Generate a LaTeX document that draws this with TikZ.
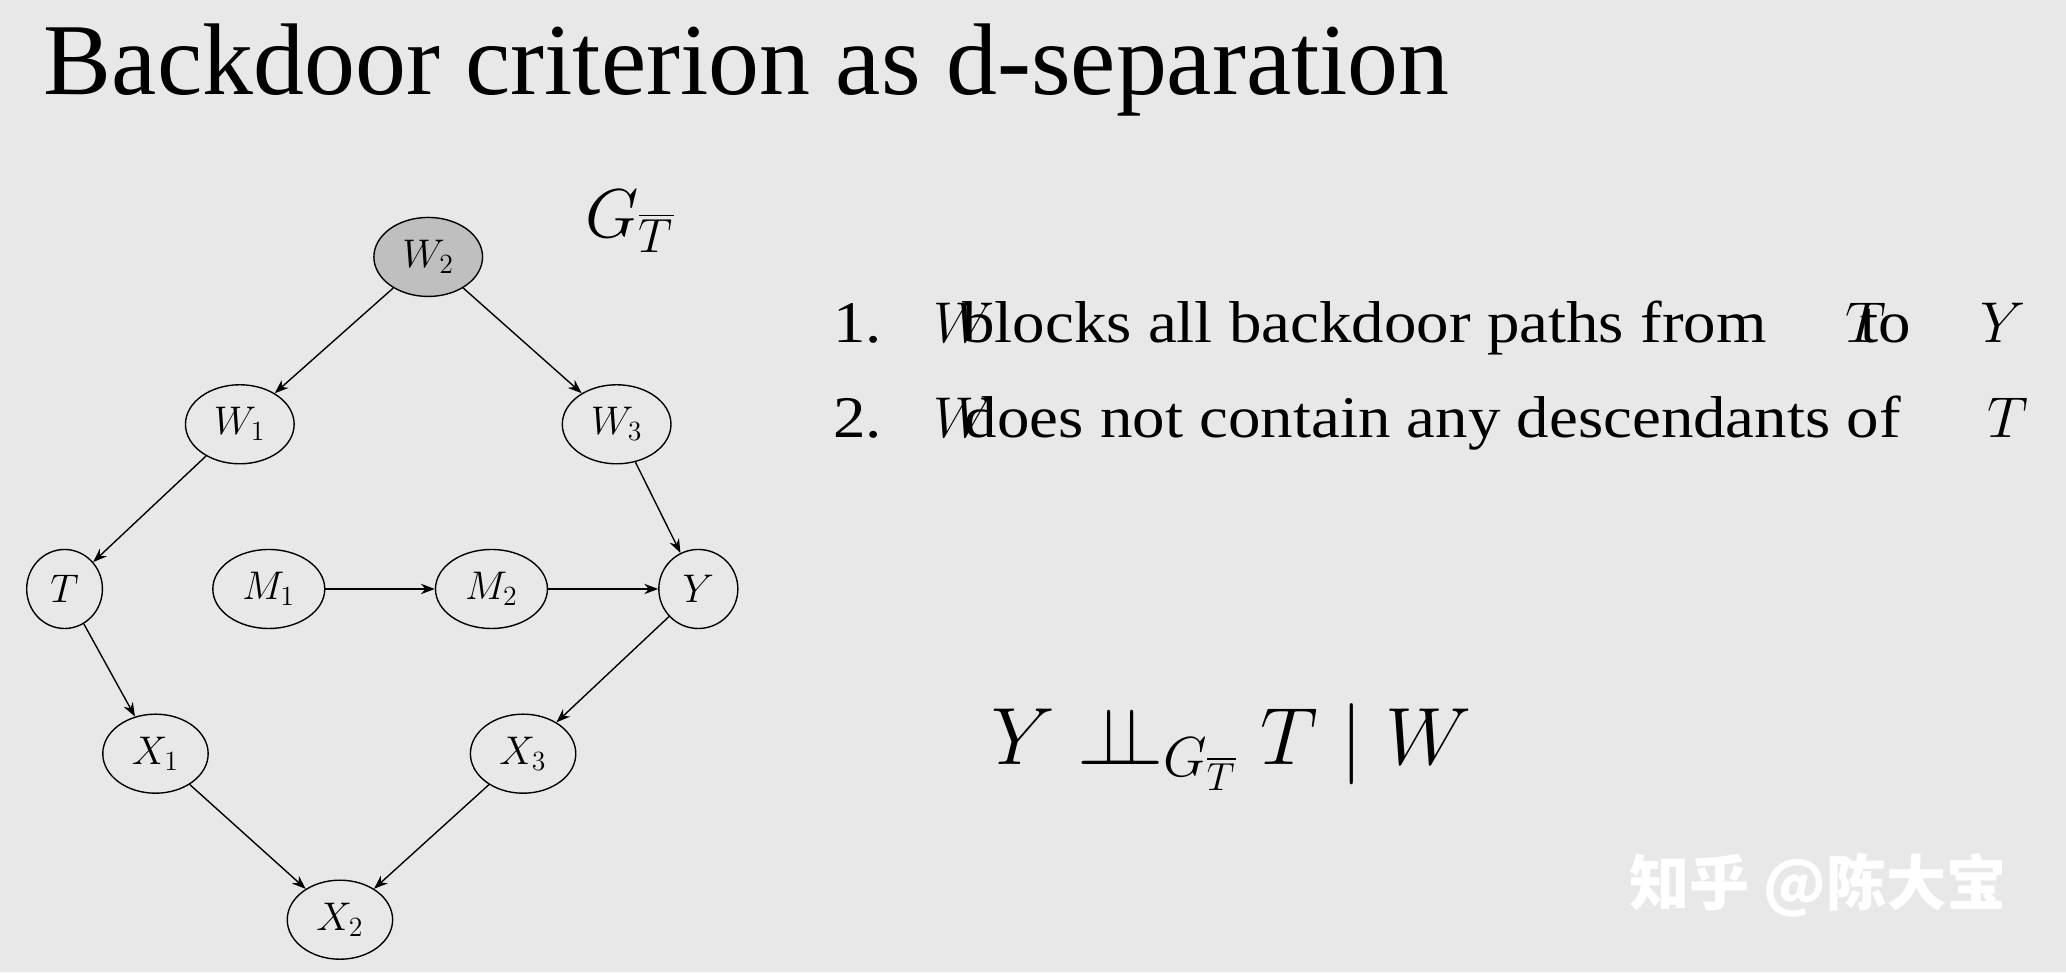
\documentclass[tikz,border=0pt]{standalone}
\usepackage{fontspec}
\usepackage{graphicx}
\setmainfont{Liberation Serif}
\newfontfamily\lstfont[FakeStretch=1.1]{Liberation Serif}
\newfontfamily\cjk{Noto Sans CJK SC}
\usetikzlibrary{shapes.geometric,arrows.meta}
\definecolor{bg}{HTML}{E8E8E8}
\tikzset{
  nd/.style={ellipse,draw,line width=0.6pt,minimum width=1.65cm,minimum height=1.2cm,inner sep=0pt,font=\fontsize{16.5}{16.5}\selectfont},
  ar/.style={-{Stealth[length=6pt,width=4.5pt]},line width=0.6pt},
  lst/.style={anchor=base west,font=\lstfont\fontsize{25.5}{25.5}\selectfont,inner sep=0pt}
}
\begin{document}
\begin{tikzpicture}[x=0.02cm,y=-0.02cm]
\fill[bg] (0,0) rectangle (1568,738);
\useasboundingbox (0,0) rectangle (1568,738);
\node[anchor=base west,inner sep=0pt,font=\fontsize{44}{44}\selectfont] (title) at (33,72) {Backdoor criterion as d-separation};
\node[nd,fill=gray!50] (W2) at (325,195) {$W_2$};
\node[nd] (W1) at (182,322) {$W_1$};
\node[nd] (W3) at (468,322) {$W_3$};
\node[nd,minimum width=1.15cm] (T) at (49,447) {$T$};
\node[nd,minimum width=1.7cm] (M1) at (204,447) {$M_1$};
\node[nd,minimum width=1.7cm] (M2) at (373,447) {$M_2$};
\node[nd,minimum width=1.2cm] (Y) at (530,447) {$Y$};
\node[nd,minimum width=1.6cm] (X1) at (118,572) {$X_1$};
\node[nd,minimum width=1.6cm] (X3) at (397,572) {$X_3$};
\node[nd,minimum width=1.6cm] (X2) at (258,698) {$X_2$};
\draw[ar] (W2) -- (W1);
\draw[ar] (W2) -- (W3);
\draw[ar] (W1) -- (T);
\draw[ar] (W3) -- (Y);
\draw[ar] (M1) -- (M2);
\draw[ar] (M2) -- (Y);
\draw[ar] (T) -- (X1);
\draw[ar] (Y) -- (X3);
\draw[ar] (X1) -- (X2);
\draw[ar] (X3) -- (X2);
\node (G) at (478,168) {\scalebox{1.2}{\fontsize{24}{24}\selectfont$G_{\overline{T}}$}};
\node[lst] (n1) at (632,260) {1.};
\node[lst] (w1) at (708,260) {$W$};
\node[lst] (t1) at (730,260) {blocks all backdoor paths from};
\node[lst] (tt) at (1400,260) {$T$};
\node[lst] (to) at (1412,260) {to};
\node[lst] (y1) at (1503,260) {$Y$};
\node[lst] (n2) at (632,332) {2.};
\node[lst] (w2) at (708,332) {$W$};
\node[lst] (t2) at (732,332) {does not contain any descendants of};
\node[lst] (t3) at (1508,332) {$T$};
\node[anchor=base west,inner sep=0pt] (f) at (752,580) {\scalebox{1.41}{\fontsize{24}{24}\selectfont$Y \perp\!\!\!\perp_{G_{\overline{T}}} T \mid W$}};
\node[font=\cjk\fontsize{26}{26}\selectfont\bfseries,text=white,anchor=center] (wm) at (1380,672) {知乎 @陈大宝};
\end{tikzpicture}
\end{document}
